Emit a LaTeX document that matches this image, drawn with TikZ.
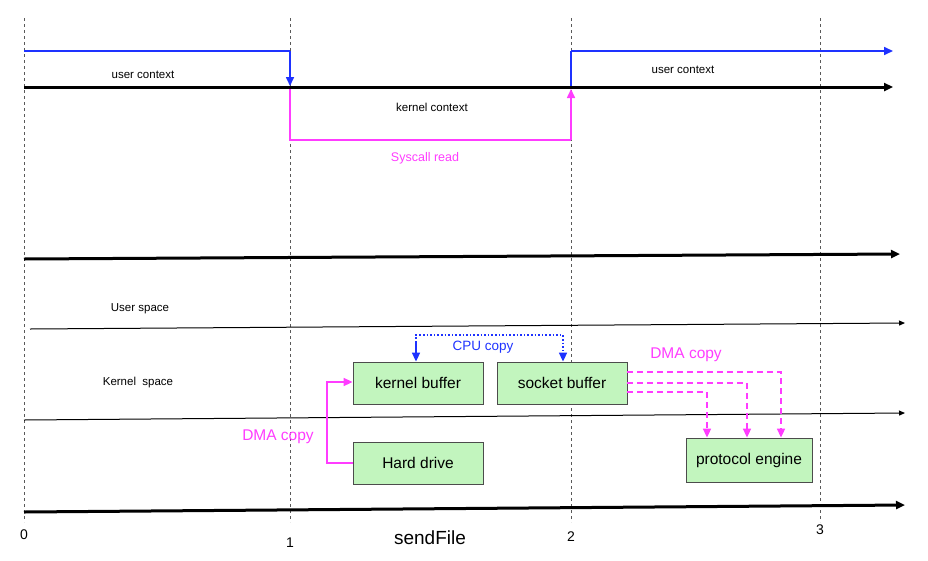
\documentclass[tikz,border=0pt]{standalone}
\usepackage{fontspec}
\setmainfont{Liberation Sans}
\usetikzlibrary{arrows.meta}
\definecolor{boxg}{RGB}{194,245,190}
\definecolor{mag}{RGB}{255,60,255}
\definecolor{blu}{RGB}{30,50,255}
\begin{document}
\begin{tikzpicture}[x=1pt,y=-1pt,
  guide/.style={dashed,gray!70!black,line width=0.8pt},
  cl/.style={line width=1.6pt},
  bx/.style={draw=black!70,line width=0.8pt,fill=boxg,minimum width=130pt,minimum height=42pt,font=\fontsize{15.5}{17}\selectfont},
  lbl/.style={font=\fontsize{11.5}{13}\selectfont},
  ar/.style={-{Triangle[length=9pt,width=8pt]}}]
\useasboundingbox (0,0) rectangle (928,560);
\foreach \x in {24,290,571,820} \draw[guide] (\x,18) -- (\x,522);
% top timelines
\draw[blu,cl] (24,51) -- (290,51);
\draw[blu,cl,ar] (290,51) -- (290,86);
\draw[line width=3pt,ar] (24,87) -- (893,87);
\draw[blu,cl] (571,86) -- (571,51);
\draw[blu,cl,ar] (571,51) -- (893,51);
\draw[mag,cl] (290,89) -- (290,140) -- (571,140);
\draw[mag,cl,ar] (571,140) -- (571,89);
\node[lbl] (uc1) at (143,75) {user context};
\node[lbl] (uc2) at (683,70) {user context};
\node[lbl] (kc) at (432,107) {kernel context};
\node[text=mag,font=\fontsize{12.5}{14}\selectfont] (sr) at (425,158) {Syscall read};
% space lines
\draw[line width=3pt,ar] (24,259) -- (900,254);
\draw[line width=1pt,-{Triangle[length=6pt,width=5pt]}] (30,329) -- (905,323);
\draw[line width=1pt,-{Triangle[length=6pt,width=5pt]}] (24,420) -- (905,413);
\draw[line width=3pt,ar] (24,512) -- (905,505);
\node[lbl] (us) at (140,309) {User space};
\node[lbl] (ks) at (138,383) {Kernel\ \ space};
% boxes
\node[bx] (kb) at (418,383) {kernel buffer};
\node[bx] (sb) at (562,383) {socket buffer};
\node[bx] (hd) at (418,463) {Hard drive};
\node[bx,minimum width=126pt,minimum height=44pt] (pe) at (749,460) {protocol engine};
% CPU copy
\draw[blu,cl,dotted,ar] (416,346) -- (416,335) -- (563,335) -- (sb.north -| 563,0);
\draw[blu,cl,ar] (416,342) -- (kb.north -| 416,0);
\node[font=\fontsize{13.5}{15}\selectfont,text=blu] (cpu) at (483,347) {CPU copy};
% DMA copy right
\draw[mag,cl,dash pattern=on 6pt off 4pt,ar] (sb.east |- 0,372) -- (781,372) -- (pe.north -| 781,0);
\draw[mag,cl,dash pattern=on 6pt off 4pt,ar] (sb.east |- 0,383) -- (747,383) -- (pe.north -| 747,0);
\draw[mag,cl,dash pattern=on 6pt off 4pt,ar] (sb.east |- 0,392) -- (707,392) -- (pe.north -| 707,0);
\node[font=\fontsize{15.5}{17}\selectfont,text=mag] (dma2) at (686,355) {DMA copy};
% DMA copy left
\draw[mag,cl,ar] (hd.west) -- (327,463) -- (327,382) -- (kb.west |- 0,382);
\node[font=\fontsize{15.5}{17}\selectfont,text=mag] (dma1) at (278,437) {DMA copy};
% axis labels
\node[font=\fontsize{14}{16}\selectfont] (n0) at (24,535) {0};
\node[font=\fontsize{14}{16}\selectfont] (n1) at (290,543) {1};
\node[font=\fontsize{14}{16}\selectfont] (n2) at (571,537) {2};
\node[font=\fontsize{14}{16}\selectfont] (n3) at (820,530) {3};
\node[font=\fontsize{19}{21}\selectfont] (sf) at (430,538) {sendFile};
\end{tikzpicture}
\end{document}
